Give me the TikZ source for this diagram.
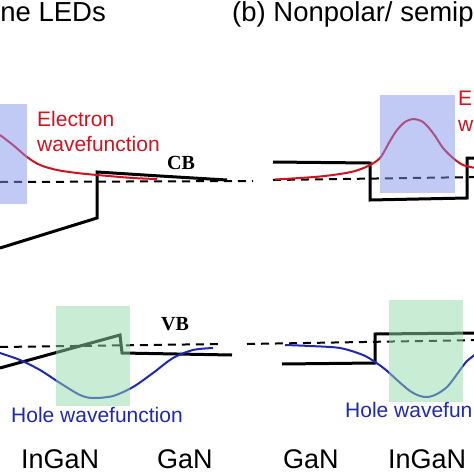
\documentclass[tikz,border=0pt]{standalone}
\usepackage{fontspec}
\setmainfont{Liberation Sans}
\newfontfamily\timesfont{Liberation Serif}
\usepackage{xcolor}
\usepackage{tikz}
\definecolor{Ered}{HTML}{D3121F}
\definecolor{Hblue}{HTML}{1E28B4}
\definecolor{Wellblue}{HTML}{8493EB}
\definecolor{Wellgreen}{HTML}{92D9A9}

\begin{document}
\begin{tikzpicture}[x=1pt,y=-1pt,
    band/.style={line width=3pt,line join=miter,draw=black},
    fermi/.style={line width=2pt,dash pattern=on 8pt off 6pt,draw=black},
    elwave/.style={line width=2pt,draw=Ered},
    howave/.style={line width=2pt,draw=Hblue},
    ewell/.style={fill=Wellblue,fill opacity=0.5},
    hwell/.style={fill=Wellgreen,fill opacity=0.5},
    title/.style={inner sep=0pt,font=\fontsize{27.5}{30}\selectfont},
    layer/.style={inner sep=0pt,font=\fontsize{27}{30}\selectfont},
    wlabel/.style={inner sep=0pt,align=left,font=\fontsize{21}{25.5}\selectfont},
    bandname/.style={inner sep=0pt,font=\timesfont\bfseries\fontsize{20}{21}\selectfont}
]
\useasboundingbox (0,0) rectangle (474,474);
\clip (0,0) rectangle (474,474);

\node[title,anchor=base east] (titleA) at (106,21) {ne LEDs};
\node[title,anchor=base west] (titleB) at (232,21) {(b) Nonpolar/ semip};

% polar well
\draw[band] (0,248) -- (97,218) -- (97,172) -- (160,176) -- (227,180);
\draw[fermi] (0,182) -- (253,181);
\draw[elwave] plot[smooth] coordinates {(0,135) (13,145) (27,157) (40,165) (57,170) (77,173) (97,175) (133,178) (157,179)};
\draw[band] (0,368) -- (120,335) -- (122,353) -- (232,355);
\draw[fermi] (0,347) -- (222,344);
\draw[howave] plot[smooth] coordinates {(0,353) (20,360) (40,370) (60,383) (80,395) (93,398) (113,396) (133,387) (153,373) (173,358) (193,350) (213,348)};
\fill[ewell] (-5,104) rectangle (27,204);
\fill[hwell] (56,306) rectangle (130,406);

\node[wlabel,anchor=north west,text=Ered] (elecA) at (37,111) {Electron\\wavefunction};
\node[wlabel,anchor=base west,text=Hblue] (holeA) at (11,422) {Hole wavefunction};
\node[bandname,anchor=base west] (cb) at (167,169) {CB};
\node[bandname,anchor=base west] (vb) at (161,330) {VB};

% nonpolar well
\draw[band] (273,162) -- (370,163) -- (370,200) -- (467,198) -- (467,158) -- (480,158);
\draw[fermi] (273,180) -- (480,177);
\draw[elwave] plot[smooth] coordinates {(275,179.5) (300,178) (320,176.5) (340,174) (355,171) (368,166) (380,158) (390,141) (397,130) (405,122) (413,119) (423,122) (433,133) (443,148) (453,158) (463,165) (476,168)};
\draw[band] (282,364) -- (375,363) -- (375,334) -- (480,333);
\draw[fermi] (247,344) -- (480,340);
\draw[howave] plot[smooth] coordinates {(285,345) (310,346) (340,348) (363,355) (375,362) (386,370) (397,380) (410,391) (420,396) (428,397) (437,394) (447,387) (455,377) (460,370) (467,361) (476,354)};
\fill[ewell] (380,95) rectangle (455,193);
\fill[hwell] (389,300) rectangle (463,402);

\node[wlabel,anchor=north west,text=Ered] (elecB) at (458,91) {E\\w};
\node[wlabel,anchor=base west,text=Hblue] (holeB) at (345,417) {Hole wavefun};

\node[layer,anchor=base west] (ingaA) at (21,468) {InGaN};
\node[layer,anchor=base west] (ganA) at (157,468) {GaN};
\node[layer,anchor=base west] (ganB) at (283,468) {GaN};
\node[layer,anchor=base west] (ingaB) at (388,468) {InGaN};
\end{tikzpicture}
\end{document}
